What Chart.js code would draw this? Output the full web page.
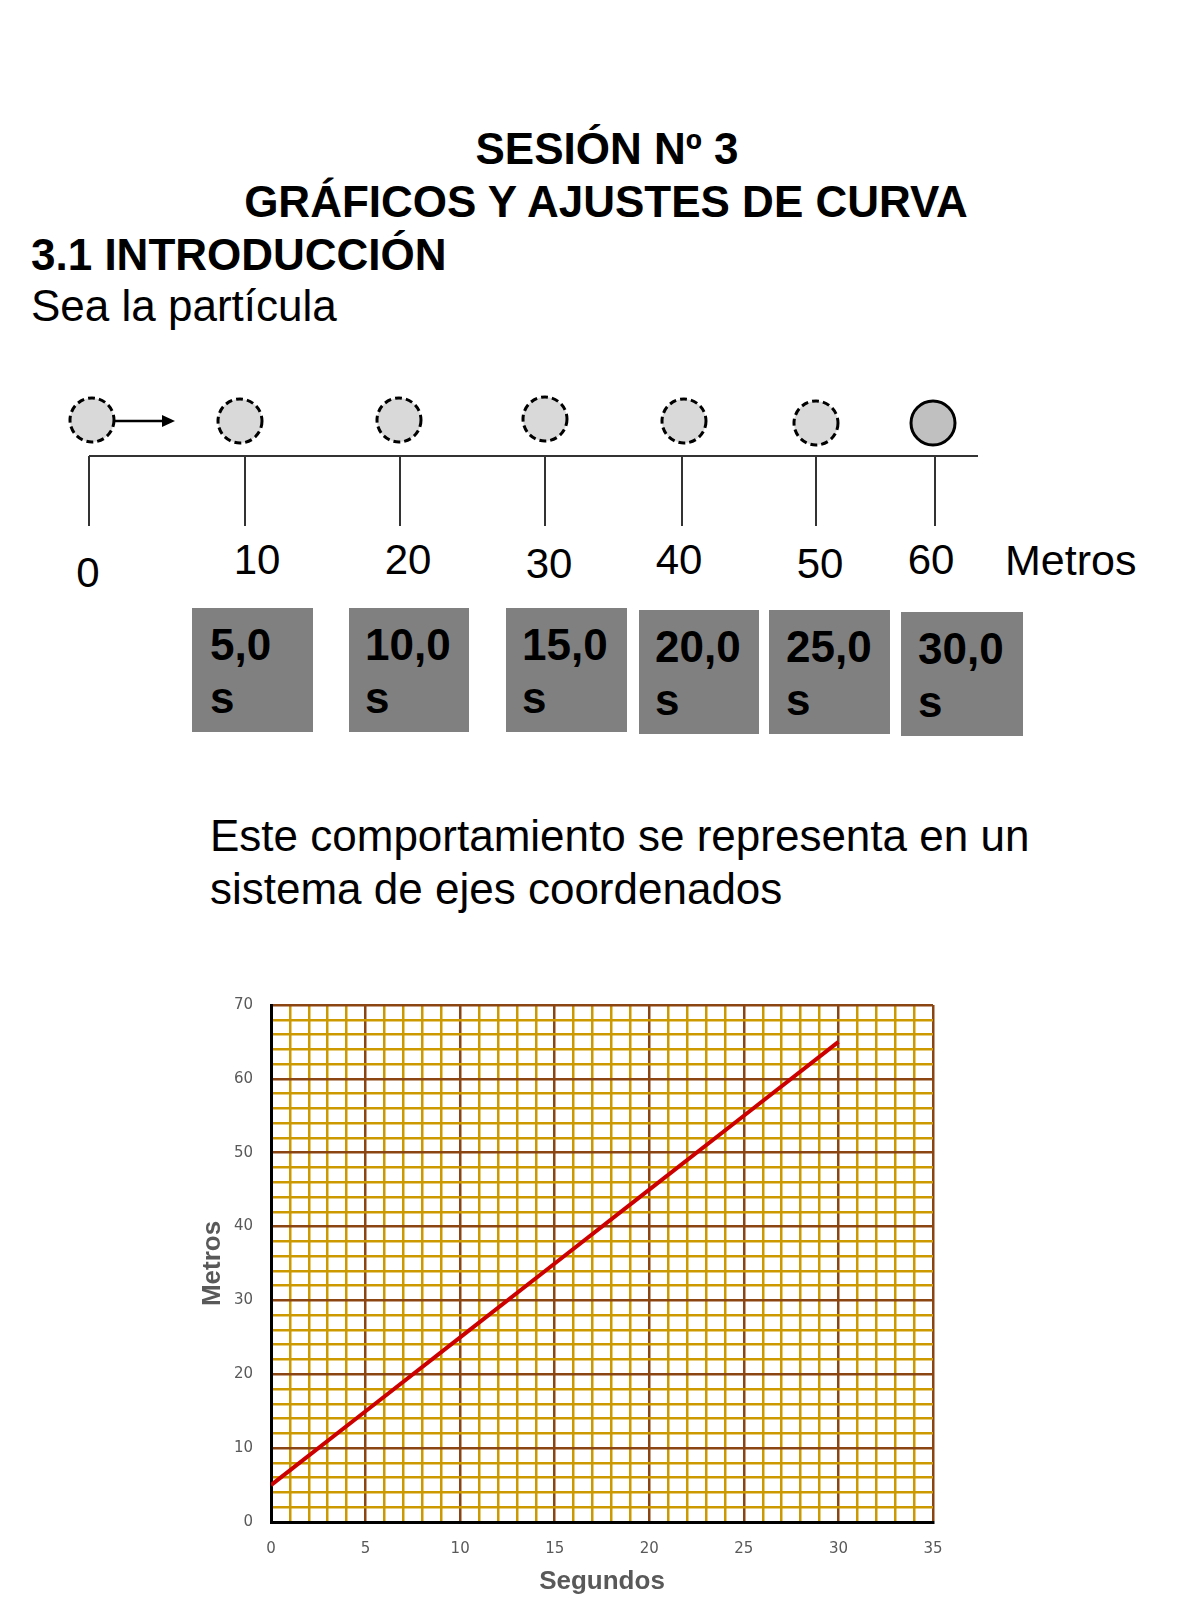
<!DOCTYPE html>
<html>
<head>
<meta charset="utf-8">
<script src="https://cdn.jsdelivr.net/npm/chart.js@4.4.1/dist/chart.umd.min.js"></script>
<style>
  html, body { margin:0; padding:0; background:#fff; }
  #page { position:relative; width:1200px; height:1600px; overflow:hidden; font-family:"Liberation Sans", Arial, sans-serif; color:#000; }
  .t { position:absolute; line-height:1; white-space:nowrap; }
  .b { font-weight:bold; }
  .c { transform:translateX(-50%); }
  .box { position:absolute; background:#808080; width:121px; height:124px; }
  .box span { position:absolute; left:18px; font-weight:bold; font-size:44px; line-height:1; }
  .box span.l1 { top:15px; }
  .box span.l2 { top:68px; }
  #chartWrap { position:absolute; left:0; top:960px; width:1200px; height:640px; }
</style>
</head>
<body>
<div id="page">
  <div class="t b c" style="left:607px; top:127px; font-size:44px;">SESIÓN Nº 3</div>
  <div class="t b c" style="left:606px; top:180px; font-size:44px;">GRÁFICOS Y AJUSTES DE CURVA</div>
  <div class="t b" style="left:31px; top:233px; font-size:44px;">3.1 INTRODUCCIÓN</div>
  <div class="t" style="left:31px; top:284px; font-size:44px;">Sea la partícula</div>

  <svg style="position:absolute; left:0; top:380px;" width="1200" height="170" viewBox="0 380 1200 170">
    <line x1="89" y1="456" x2="978" y2="456" stroke="#333" stroke-width="2"/>
    <g stroke="#333" stroke-width="2">
      <line x1="89" y1="456" x2="89" y2="526"/>
      <line x1="245" y1="456" x2="245" y2="526"/>
      <line x1="400" y1="456" x2="400" y2="526"/>
      <line x1="545" y1="456" x2="545" y2="526"/>
      <line x1="682" y1="456" x2="682" y2="526"/>
      <line x1="816" y1="456" x2="816" y2="526"/>
      <line x1="935" y1="456" x2="935" y2="526"/>
    </g>
    <g fill="#d9d9d9" stroke="#000" stroke-width="3" stroke-dasharray="7 4">
      <circle cx="92" cy="420" r="22"/>
      <circle cx="240" cy="421" r="22"/>
      <circle cx="399" cy="420" r="22"/>
      <circle cx="545" cy="419" r="22"/>
      <circle cx="684" cy="421" r="22"/>
      <circle cx="816" cy="423" r="22"/>
    </g>
    <circle cx="933" cy="423" r="22" fill="#c0c0c0" stroke="#000" stroke-width="3"/>
    <line x1="115" y1="421" x2="164" y2="421" stroke="#000" stroke-width="2.5"/>
    <polygon points="162,415 175,421 162,427" fill="#000"/>
  </svg>

  <div class="t c" style="left:88px; top:552px; font-size:42px;">0</div>
  <div class="t c" style="left:257px; top:539px; font-size:42px;">10</div>
  <div class="t c" style="left:408px; top:539px; font-size:42px;">20</div>
  <div class="t c" style="left:549px; top:543px; font-size:42px;">30</div>
  <div class="t c" style="left:679px; top:539px; font-size:42px;">40</div>
  <div class="t c" style="left:820px; top:543px; font-size:42px;">50</div>
  <div class="t c" style="left:931px; top:539px; font-size:42px;">60</div>
  <div class="t" style="left:1005px; top:539px; font-size:43px;">Metros</div>

  <div class="box" style="left:192px; top:608px;"><span class="l1">5,0</span><span class="l2">s</span></div>
  <div class="box" style="left:349px; top:608px; width:120px;"><span class="l1" style="left:16px;">10,0</span><span class="l2" style="left:16px;">s</span></div>
  <div class="box" style="left:506px; top:608px;"><span class="l1" style="left:16px;">15,0</span><span class="l2" style="left:16px;">s</span></div>
  <div class="box" style="left:639px; top:610px; width:120px;"><span class="l1" style="left:16px;">20,0</span><span class="l2" style="left:16px;">s</span></div>
  <div class="box" style="left:769px; top:610px;"><span class="l1" style="left:17px;">25,0</span><span class="l2" style="left:17px;">s</span></div>
  <div class="box" style="left:901px; top:612px; width:122px;"><span class="l1" style="left:17px;">30,0</span><span class="l2" style="left:17px;">s</span></div>

  <div class="t" style="left:210px; top:814px; font-size:44px;">Este comportamiento se representa en un</div>
  <div class="t" style="left:210px; top:867px; font-size:44px;">sistema de ejes coordenados</div>

  <div id="chartWrap"><canvas id="chart" width="1200" height="640"></canvas></div>
</div>
<script>
// Data
const segundos = [0, 5, 10, 15, 20, 25, 30];
const metros = [5, 15, 25, 35, 45, 55, 65];
const xRange = [0, 35];
const yRange = [0, 70];
const xMajorStep = 5, xMinorStep = 1;
const yMajorStep = 10, yMinorStep = 2;
const xTitle = 'Segundos';
const yTitle = 'Metros';

const GOLD = '#CC9900';
const BROWN = '#8B4513';
const TICK_COLOR = '#595959';

const points = segundos.map((s, i) => ({ x: s, y: metros[i] }));

new Chart(document.getElementById('chart'), {
  type: 'line',
  data: {
    datasets: [{
      data: points,
      borderColor: '#CC0000',
      borderWidth: 4,
      pointRadius: 0,
      tension: 0,
      fill: false
    }]
  },
  options: {
    responsive: false,
    animation: false,
    devicePixelRatio: 1,
    layout: { padding: { left: 171, right: 267, top: 45, bottom: 0 } },
    plugins: { legend: { display: false }, tooltip: { enabled: false } },
    scales: {
      x: {
        type: 'linear',
        min: xRange[0], max: xRange[1],
        afterFit: s => { s.height = 78; },
        ticks: {
          stepSize: xMinorStep, autoSkip: false, maxRotation: 0,
          callback: v => (v % xMajorStep === 0 ? String(v) : ''),
          color: TICK_COLOR, font: { family: 'DejaVu Sans', size: 15 }, padding: 18
        },
        grid: {
          drawTicks: false,
          color: ctx => (ctx.tick && ctx.tick.value % xMajorStep === 0 ? BROWN : GOLD),
          lineWidth: 2.5
        },
        border: { color: '#000', width: 3 },
        title: {
          display: true, text: xTitle, color: TICK_COLOR,
          font: { family: 'Liberation Sans', size: 26, weight: 'bold' },
          padding: { top: 0, bottom: 3 }
        }
      },
      y: {
        type: 'linear',
        min: yRange[0], max: yRange[1],
        afterFit: s => { s.width = 100; },
        ticks: {
          stepSize: yMinorStep, autoSkip: false,
          callback: v => (v % yMajorStep === 0 ? String(v) : ''),
          color: TICK_COLOR, font: { family: 'DejaVu Sans', size: 15 }, padding: 18
        },
        grid: {
          drawTicks: false,
          color: ctx => (ctx.tick && ctx.tick.value % yMajorStep === 0 ? BROWN : GOLD),
          lineWidth: 2.5
        },
        border: { color: '#000', width: 3 },
        title: {
          display: true, text: yTitle, color: TICK_COLOR,
          font: { family: 'Liberation Sans', size: 26, weight: 'bold' },
          padding: { top: 26, bottom: 0 }
        }
      }
    }
  }
});
</script>
</body>
</html>
